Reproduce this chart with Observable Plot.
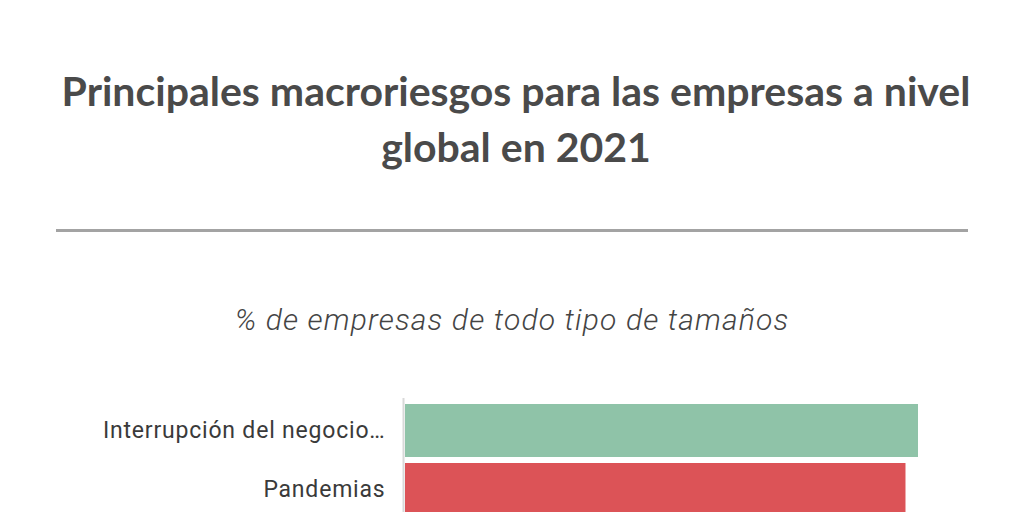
<!DOCTYPE html>
<html>
<head>
<meta charset="utf-8">
<script src="https://cdn.jsdelivr.net/npm/d3@7"></script>
<script src="https://cdn.jsdelivr.net/npm/@observablehq/plot@0.6"></script>
<style>
  html, body { margin: 0; padding: 0; background: #fff; }
  body { width: 1024px; height: 512px; position: relative; overflow: hidden; }
  #title { position: absolute; left: 4px; top: 63px; width: 1024px; text-align: center;
    font-family: Lato, sans-serif; font-weight: 700; font-size: 41px; line-height: 56px;
    color: #4a4a4a; margin: 0; }
  #rule { position: absolute; left: 56px; top: 229px; width: 912px; height: 3px; background: #a3a3a3; }
  #subtitle { position: absolute; left: 0; top: 302px; width: 1024px; text-align: center;
    font-family: Roboto, sans-serif; font-style: italic; font-weight: 300; font-size: 30px;
    letter-spacing: 1.15px; color: #444; }
  #chart { position: absolute; left: 0; top: 398px; }
</style>
</head>
<body>
<div id="title">Principales macroriesgos para las empresas a nivel<br>global en 2021</div>
<div id="rule"></div>
<div id="subtitle">% de empresas de todo tipo de tamaños</div>
<div id="chart"></div>
<script>
const categories = ["Interrupción del negocio…", "Pandemias"];
const values = [41, 40];
const colors = ["#8fc3a8", "#dc5357"];

const data = categories.map((c, i) => ({ category: c, value: values[i], color: colors[i] }));

const chart = Plot.plot({
  width: 1024,
  height: 124,
  marginLeft: 405,
  marginRight: 106,
  marginTop: 0,
  marginBottom: 0,
  style: { fontFamily: "Roboto, sans-serif", fontSize: "22px", color: "#444", background: "transparent", overflow: "visible", letterSpacing: "0.8px" },
  x: { domain: [0, 41], axis: null },
  y: { domain: categories, padding: 0.1, label: null },
  marks: [
    Plot.barX(data, { y: "category", x: "value", fill: "color" }),
    Plot.ruleX([0], { stroke: "#d9d9d9", strokeWidth: 2, dx: -2 }),
    Plot.axisY({ tickSize: 0, tickPadding: 20, fontSize: 23, fontWeight: 400, fill: "#3a3a3a" })
  ]
});
document.getElementById("chart").appendChild(chart);
</script>
</body>
</html>
